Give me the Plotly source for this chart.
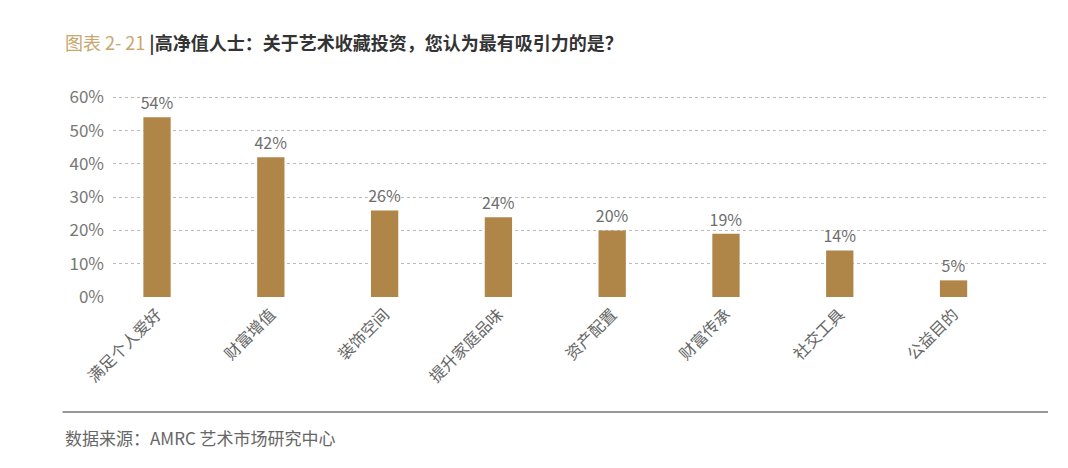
import plotly.graph_objects as go

categories = ["满足个人爱好", "财富增值", "装饰空间", "提升家庭品味", "资产配置", "财富传承", "社交工具", "公益目的"]
values = [54, 42, 26, 24, 20, 19, 14, 5]
y_ticks = [0, 10, 20, 30, 40, 50, 60]
y_tick_labels = [f"{v}%" for v in y_ticks]
bar_labels = [f"{v}%" for v in values]

FONT = "Noto Sans CJK SC, Noto Sans, sans-serif"
BAR = "#B08648"

fig = go.Figure()
fig.add_trace(go.Bar(
    x=list(range(len(categories))), y=values,
    width=0.24,
    marker=dict(color=BAR, line=dict(width=0)),
    text=bar_labels, textposition="outside",
    textfont=dict(size=16, color="#6E6E6E", family=FONT),
    constraintext="none",
    cliponaxis=False,
))

fig.update_layout(
    width=1068, height=468,
    margin=dict(l=113, r=20, t=96, b=171),
    paper_bgcolor="white", plot_bgcolor="white",
    showlegend=False,
    font=dict(family=FONT),
    xaxis=dict(
        range=[-0.387, 7.83],
        tickmode="array", tickvals=list(range(len(categories))), ticktext=categories,
        tickangle=-45, tickfont=dict(size=16, color="#666666", family=FONT),
        showgrid=False, zeroline=False, showline=False, ticks="",
        ticklabelstandoff=4,
    ),
    yaxis=dict(
        range=[0, 60.4],
        tickmode="array", tickvals=y_ticks, ticktext=y_tick_labels,
        tickfont=dict(size=17, color="#777777", family=FONT),
        showgrid=True, gridcolor="#BBBBBB", griddash="dot", gridwidth=1,
        zeroline=False, showline=False, ticks="", ticklabelstandoff=8,
    ),
    annotations=[
        dict(xref="paper", yref="paper", x=-0.054, y=1.27, xanchor="left", yanchor="middle",
             showarrow=False,
             text="<span style='color:#C9A66E'>图表 2- 21 </span><span style='color:#333333'><b>|高净值人士：关于艺术收藏投资，您认为最有吸引力的是？</b></span>",
             font=dict(size=18, family=FONT)),
        dict(xref="paper", yref="paper", x=-0.054, y=-0.698, xanchor="left", yanchor="middle",
             showarrow=False, text="数据来源：AMRC 艺术市场研究中心",
             font=dict(size=17, color="#666666", family=FONT)),
    ],
    shapes=[
        dict(type="line", xref="paper", yref="paper", x0=-0.054, x1=1.0, y0=-0.572, y1=-0.572,
             line=dict(color="#999999", width=2)),
    ],
)

fig.write_html("out.html")
